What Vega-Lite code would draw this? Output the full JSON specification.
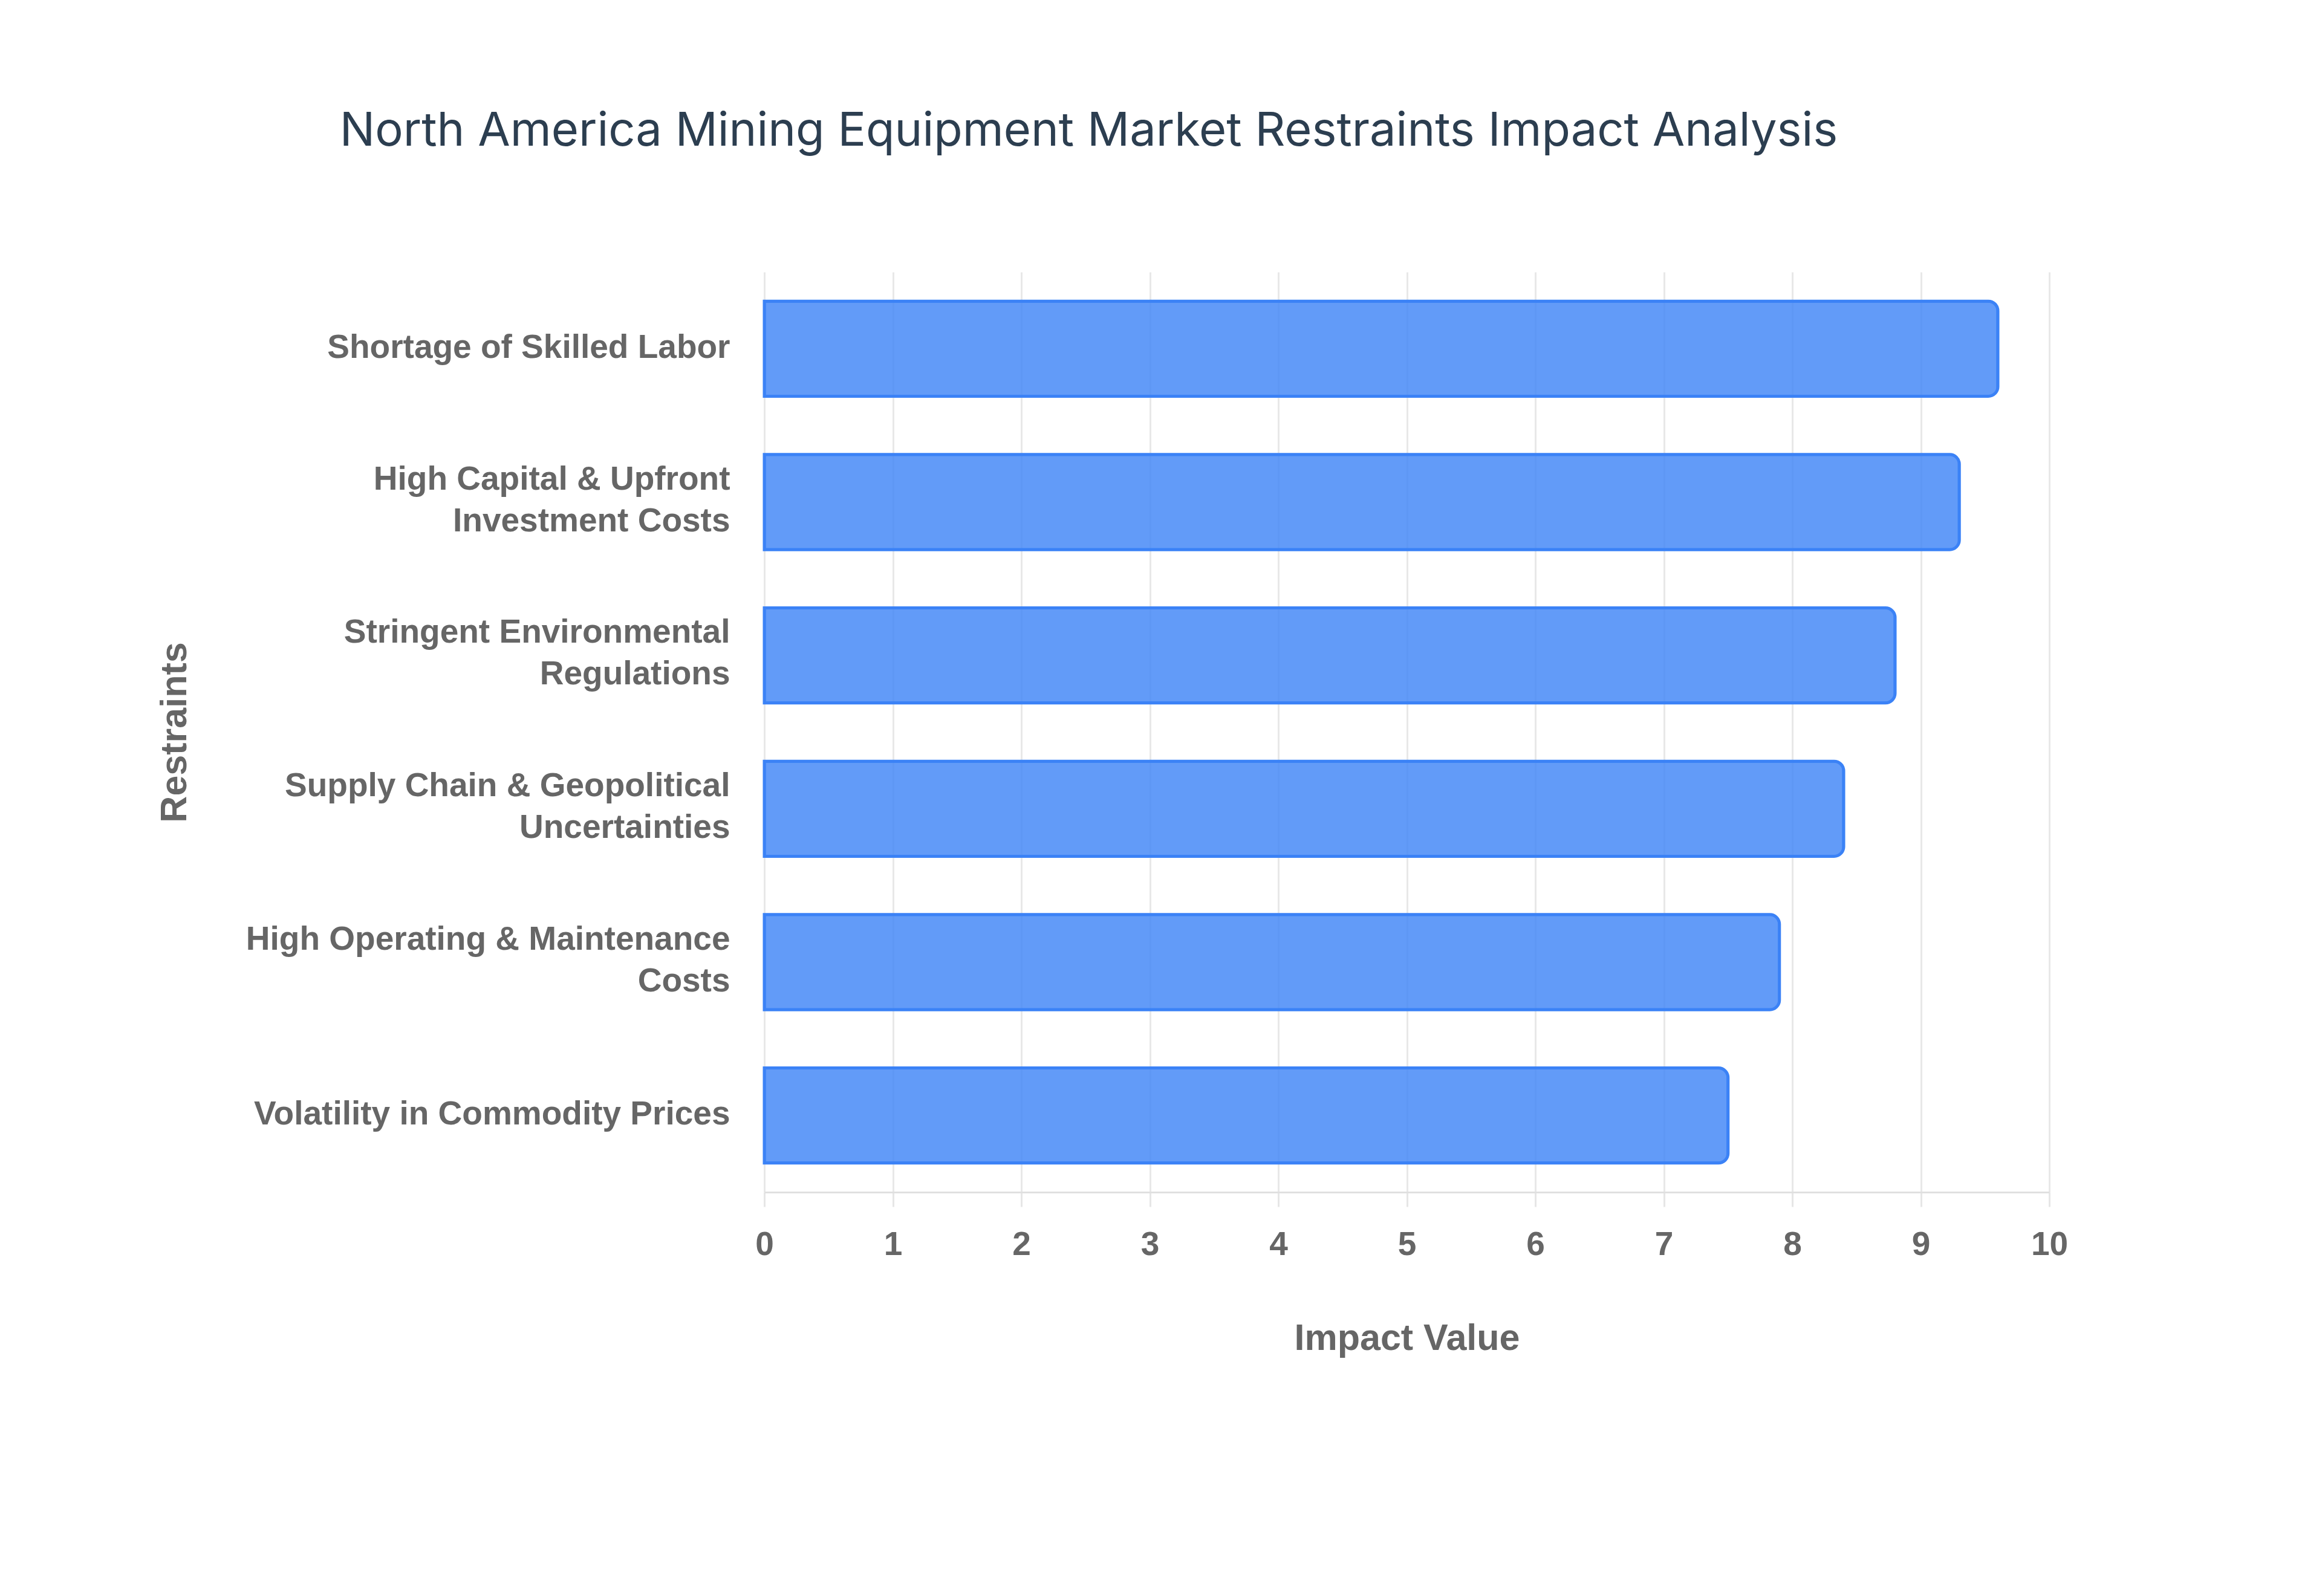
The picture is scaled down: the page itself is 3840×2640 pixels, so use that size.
{
  "$schema": "https://vega.github.io/schema/vega-lite/v6.json",
  "autosize": {"type": "none"},
  "padding": {"left": 1264, "top": 450, "right": 451, "bottom": 668},
  "width": 2125,
  "height": 1522,
  "background": "white",
  "title": {
    "text": "North America Mining Equipment Market Restraints Impact Analysis",
    "anchor": "middle",
    "dx": -526,
    "offset": 192,
    "font": "Inter",
    "fontSize": 77.6,
    "fontWeight": "normal",
    "color": "#2c3e50"
  },
  "data": {
    "values": [
      {"restraint": "Shortage of Skilled Labor", "impact": 9.6},
      {"restraint": "High Capital & Upfront Investment Costs", "impact": 9.3},
      {"restraint": "Stringent Environmental Regulations", "impact": 8.8},
      {"restraint": "Supply Chain & Geopolitical Uncertainties", "impact": 8.4},
      {"restraint": "High Operating & Maintenance Costs", "impact": 7.9},
      {"restraint": "Volatility in Commodity Prices", "impact": 7.5}
    ]
  },
  "mark": {
    "type": "bar",
    "fill": "#3b82f6",
    "fillOpacity": 0.8,
    "stroke": "#3b82f6",
    "strokeWidth": 5,
    "cornerRadiusEnd": 16
  },
  "encoding": {
    "y": {
      "field": "restraint",
      "type": "nominal",
      "sort": null,
      "title": "Restraints",
      "scale": {"paddingInner": 0.38, "paddingOuter": 0.19},
      "axis": {
        "ticks": false,
        "domain": false,
        "labelPadding": 57,
        "labelFontSize": 55,
        "labelLineHeight": 69,
        "labelLimit": 1200,
        "labelOffset": {
          "condition": {
            "test": "datum.value != 'Shortage of Skilled Labor' && datum.value != 'Volatility in Commodity Prices'",
            "value": -38
          },
          "value": -2
        },
        "labelExpr": "datum.value == 'High Capital & Upfront Investment Costs' ? ['High Capital & Upfront', 'Investment Costs'] : datum.value == 'Stringent Environmental Regulations' ? ['Stringent Environmental', 'Regulations'] : datum.value == 'Supply Chain & Geopolitical Uncertainties' ? ['Supply Chain & Geopolitical', 'Uncertainties'] : datum.value == 'High Operating & Maintenance Costs' ? ['High Operating & Maintenance', 'Costs'] : datum.value",
        "titleX": -975,
        "titleY": 761,
        "titleBaseline": "middle",
        "titleAngle": -90
      }
    },
    "x": {
      "field": "impact",
      "type": "quantitative",
      "title": "Impact Value",
      "scale": {"domain": [0, 10], "nice": false},
      "axis": {
        "values": [0, 1, 2, 3, 4, 5, 6, 7, 8, 9, 10],
        "tickSize": 24,
        "tickColor": "#e6e6e6",
        "tickWidth": 3,
        "domainColor": "#e0e0e0",
        "domainWidth": 3,
        "labelFlush": false,
        "labelPadding": 36,
        "labelFontSize": 55,
        "titleY": 242,
        "titleBaseline": "middle"
      }
    }
  },
  "config": {
    "view": {"stroke": null},
    "axis": {
      "labelFont": "Liberation Sans",
      "labelFontWeight": "bold",
      "labelColor": "#666666",
      "titleFont": "Liberation Sans",
      "titleFontWeight": "bold",
      "titleFontSize": 61,
      "titleColor": "#666666",
      "gridColor": "#e8e8e8",
      "gridWidth": 3
    },
    "axisY": {"grid": false}
  }
}
